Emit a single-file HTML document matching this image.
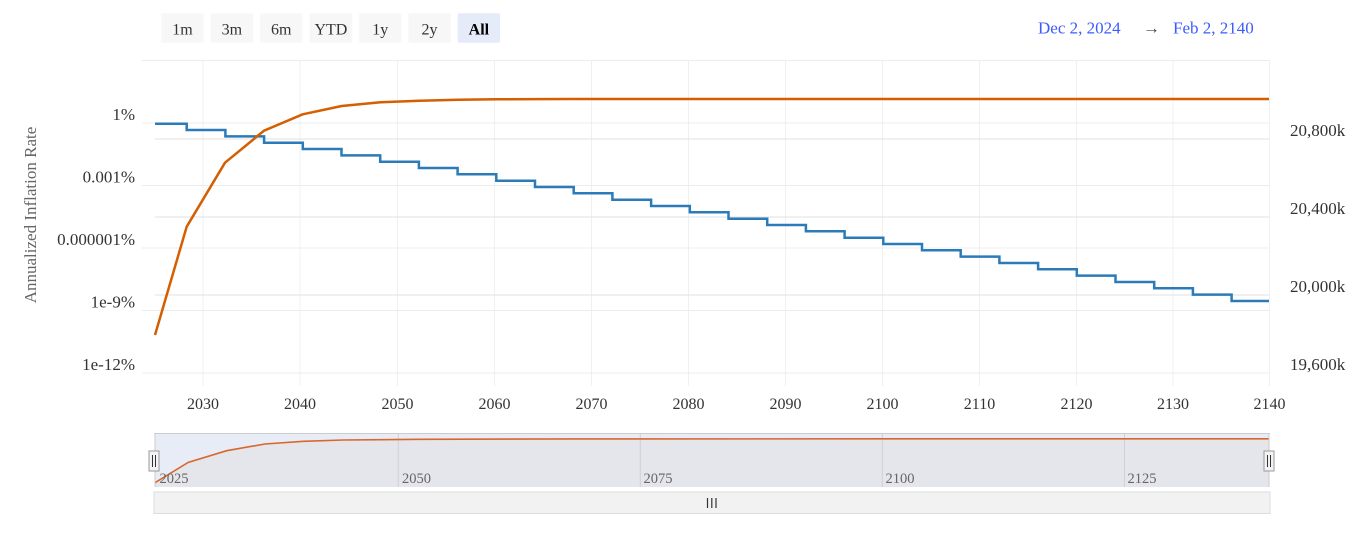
<!DOCTYPE html>
<html>
<head>
<meta charset="utf-8">
<style>
  html,body{margin:0;padding:0;background:#fff;}
  svg{display:block;}
  text{font-family:"Liberation Serif","DejaVu Serif",serif;}
</style>
</head>
<body>
<svg width="1366" height="533" viewBox="0 0 1366 533" xmlns="http://www.w3.org/2000/svg">
  <rect x="0" y="0" width="1366" height="533" fill="#fff"/>

  <!-- range selector buttons -->
  <g font-size="16" fill="#333" text-anchor="middle">
    <rect x="161.3" y="13.3" width="42.4" height="29.4" rx="2" fill="#f7f7f7"/>
    <text x="182.5" y="34.3">1m</text>
    <rect x="210.7" y="13.3" width="42.4" height="29.4" rx="2" fill="#f7f7f7"/>
    <text x="231.9" y="34.3">3m</text>
    <rect x="260" y="13.3" width="42.4" height="29.4" rx="2" fill="#f7f7f7"/>
    <text x="281.2" y="34.3">6m</text>
    <rect x="309.7" y="13.3" width="42.4" height="29.4" rx="2" fill="#f7f7f7"/>
    <text x="330.9" y="34.3">YTD</text>
    <rect x="359" y="13.3" width="42.4" height="29.4" rx="2" fill="#f7f7f7"/>
    <text x="380.2" y="34.3">1y</text>
    <rect x="408.3" y="13.3" width="42.4" height="29.4" rx="2" fill="#f7f7f7"/>
    <text x="429.5" y="34.3">2y</text>
    <rect x="457.7" y="13.3" width="42.4" height="29.4" rx="2" fill="#e6ebf9"/>
    <text x="478.9" y="34.3" font-weight="bold" fill="#000">All</text>
  </g>

  <!-- date range -->
  <g font-size="17" fill="#3b5bff">
    <text x="1038" y="33.3">Dec 2, 2024</text>
    <text x="1143" y="33.3" fill="#444">→</text>
    <text x="1173" y="33.3">Feb 2, 2140</text>
  </g>

  <!-- vertical grid -->
  <g stroke="#f0f0f0" stroke-width="1">
    <line x1="203" y1="60" x2="203" y2="386"/>
    <line x1="300" y1="60" x2="300" y2="386"/>
    <line x1="397.5" y1="60" x2="397.5" y2="386"/>
    <line x1="494.5" y1="60" x2="494.5" y2="386"/>
    <line x1="591.5" y1="60" x2="591.5" y2="386"/>
    <line x1="688.5" y1="60" x2="688.5" y2="386"/>
    <line x1="785.5" y1="60" x2="785.5" y2="386"/>
    <line x1="882.5" y1="60" x2="882.5" y2="386"/>
    <line x1="979.5" y1="60" x2="979.5" y2="386"/>
    <line x1="1076.5" y1="60" x2="1076.5" y2="386"/>
    <line x1="1173" y1="60" x2="1173" y2="386"/>
    <line x1="1269.5" y1="60" x2="1269.5" y2="386"/>
  </g>

  <!-- left axis horizontal grid -->
  <g stroke="#ececec" stroke-width="1">
    <line x1="142" y1="60.5" x2="1269" y2="60.5"/>
    <line x1="142" y1="123" x2="1269" y2="123"/>
    <line x1="142" y1="185.5" x2="1269" y2="185.5"/>
    <line x1="142" y1="248" x2="1269" y2="248"/>
    <line x1="142" y1="310.5" x2="1269" y2="310.5"/>
    <line x1="142" y1="373" x2="1269" y2="373"/>
  </g>
  <!-- right axis horizontal grid -->
  <g stroke="#e2e2e2" stroke-width="1">
    <line x1="155" y1="139" x2="1269" y2="139"/>
    <line x1="155" y1="217" x2="1269" y2="217"/>
    <line x1="155" y1="295" x2="1269" y2="295"/>
  </g>

  <!-- y axis title -->
  <text transform="translate(36,215) rotate(-90)" font-size="17" fill="#666" text-anchor="middle">Annualized Inflation Rate</text>

  <!-- left labels -->
  <g font-size="17" fill="#333" text-anchor="end">
    <text x="135" y="120">1%</text>
    <text x="135" y="182.5">0.001%</text>
    <text x="135" y="245">0.000001%</text>
    <text x="135" y="307.5">1e-9%</text>
    <text x="135" y="370">1e-12%</text>
  </g>
  <!-- right labels -->
  <g font-size="17" fill="#333" text-anchor="start">
    <text x="1290" y="136">20,800k</text>
    <text x="1290" y="214">20,400k</text>
    <text x="1290" y="292">20,000k</text>
    <text x="1290" y="370">19,600k</text>
  </g>
  <!-- x labels -->
  <g font-size="16" fill="#333" text-anchor="middle">
    <text x="203" y="409">2030</text>
    <text x="300" y="409">2040</text>
    <text x="397.5" y="409">2050</text>
    <text x="494.5" y="409">2060</text>
    <text x="591.5" y="409">2070</text>
    <text x="688.5" y="409">2080</text>
    <text x="785.5" y="409">2090</text>
    <text x="882.5" y="409">2100</text>
    <text x="979.5" y="409">2110</text>
    <text x="1076.5" y="409">2120</text>
    <text x="1173" y="409">2130</text>
    <text x="1269.5" y="409">2140</text>
  </g>

  <!-- blue step series -->
  <path fill="none" stroke="#2b7bb9" stroke-width="2.5" stroke-linejoin="miter"
    d="M155 123.7 H186.7 V130 H225.4 V136.4 H264.1 V142.7 H302.8 V149 H341.5 V155.4 H380.2 V161.7 H418.9 V168 H457.6 V174.3 H496.3 V180.7 H535 V187 H573.7 V193.3 H612.4 V199.7 H651.1 V206 H689.8 V212.3 H728.5 V218.7 H767.2 V225 H805.9 V231.3 H844.6 V237.7 H883.3 V244 H922 V250.3 H960.7 V256.6 H999.4 V263 H1038.1 V269.3 H1076.8 V275.6 H1115.5 V282 H1154.2 V288.3 H1192.9 V294.6 H1231.6 V301 H1269"/>

  <!-- orange series -->
  <path fill="none" stroke="#d55e00" stroke-width="2.5" stroke-linejoin="round"
    d="M155 335 L186.7 226.7 L225 162.7 L264 130.7 L302.7 114.3 L341.7 106 L380.5 102.3 L419.3 100.7 L458 99.8 L497 99.3 L536 99.1 L574 99 L1269 99"/>

  <!-- navigator -->
  <rect x="155" y="433" width="1114" height="54" fill="#e5e5ec"/>
  <path d="M155 433 H1269 V439 L574 438.8 L343.3 440 L303.3 441.3 L265 444 L226.7 450.7 L188.3 462.3 L155 482.7 Z" fill="#e8ecf7"/>
  <g stroke="#d0d0d6" stroke-width="1">
    <line x1="398.3" y1="433" x2="398.3" y2="487"/>
    <line x1="640.3" y1="433" x2="640.3" y2="487"/>
    <line x1="882.3" y1="433" x2="882.3" y2="487"/>
    <line x1="1124.5" y1="433" x2="1124.5" y2="487"/>
  </g>
  <path fill="none" stroke="#d9672a" stroke-width="1.6"
    d="M155 482.7 L188.3 462.3 L226.7 450.7 L265 444 L303.3 441.3 L343.3 440 L420 439.3 L574 438.9 L1269 438.8"/>
  <g font-size="14.5" fill="#666">
    <text x="159.5" y="483">2025</text>
    <text x="402" y="483">2050</text>
    <text x="643.5" y="483">2075</text>
    <text x="885.5" y="483">2100</text>
    <text x="1127.5" y="483">2125</text>
  </g>
  <line x1="154" y1="433.5" x2="1270" y2="433.5" stroke="#cccccc" stroke-width="1"/>
  <line x1="155" y1="433" x2="155" y2="487" stroke="#cccccc" stroke-width="1"/>
  <line x1="1269" y1="433" x2="1269" y2="487" stroke="#cccccc" stroke-width="1"/>

  <!-- handles -->
  <g>
    <rect x="149" y="451" width="10" height="20" fill="#f2f2f2" stroke="#999" stroke-width="1"/>
    <line x1="152.5" y1="455" x2="152.5" y2="467" stroke="#333" stroke-width="1"/>
    <line x1="155.5" y1="455" x2="155.5" y2="467" stroke="#333" stroke-width="1"/>
    <rect x="1264" y="451" width="10" height="20" fill="#f2f2f2" stroke="#999" stroke-width="1"/>
    <line x1="1267.5" y1="455" x2="1267.5" y2="467" stroke="#333" stroke-width="1"/>
    <line x1="1270.5" y1="455" x2="1270.5" y2="467" stroke="#333" stroke-width="1"/>
  </g>

  <!-- scrollbar -->
  <rect x="154" y="492" width="1116" height="21.5" fill="#f2f2f2" stroke="#dcdcdc" stroke-width="1"/>
  <g stroke="#333" stroke-width="1.2">
    <line x1="707.5" y1="498" x2="707.5" y2="508"/>
    <line x1="711.8" y1="498" x2="711.8" y2="508"/>
    <line x1="716" y1="498" x2="716" y2="508"/>
  </g>
</svg>
</body>
</html>
